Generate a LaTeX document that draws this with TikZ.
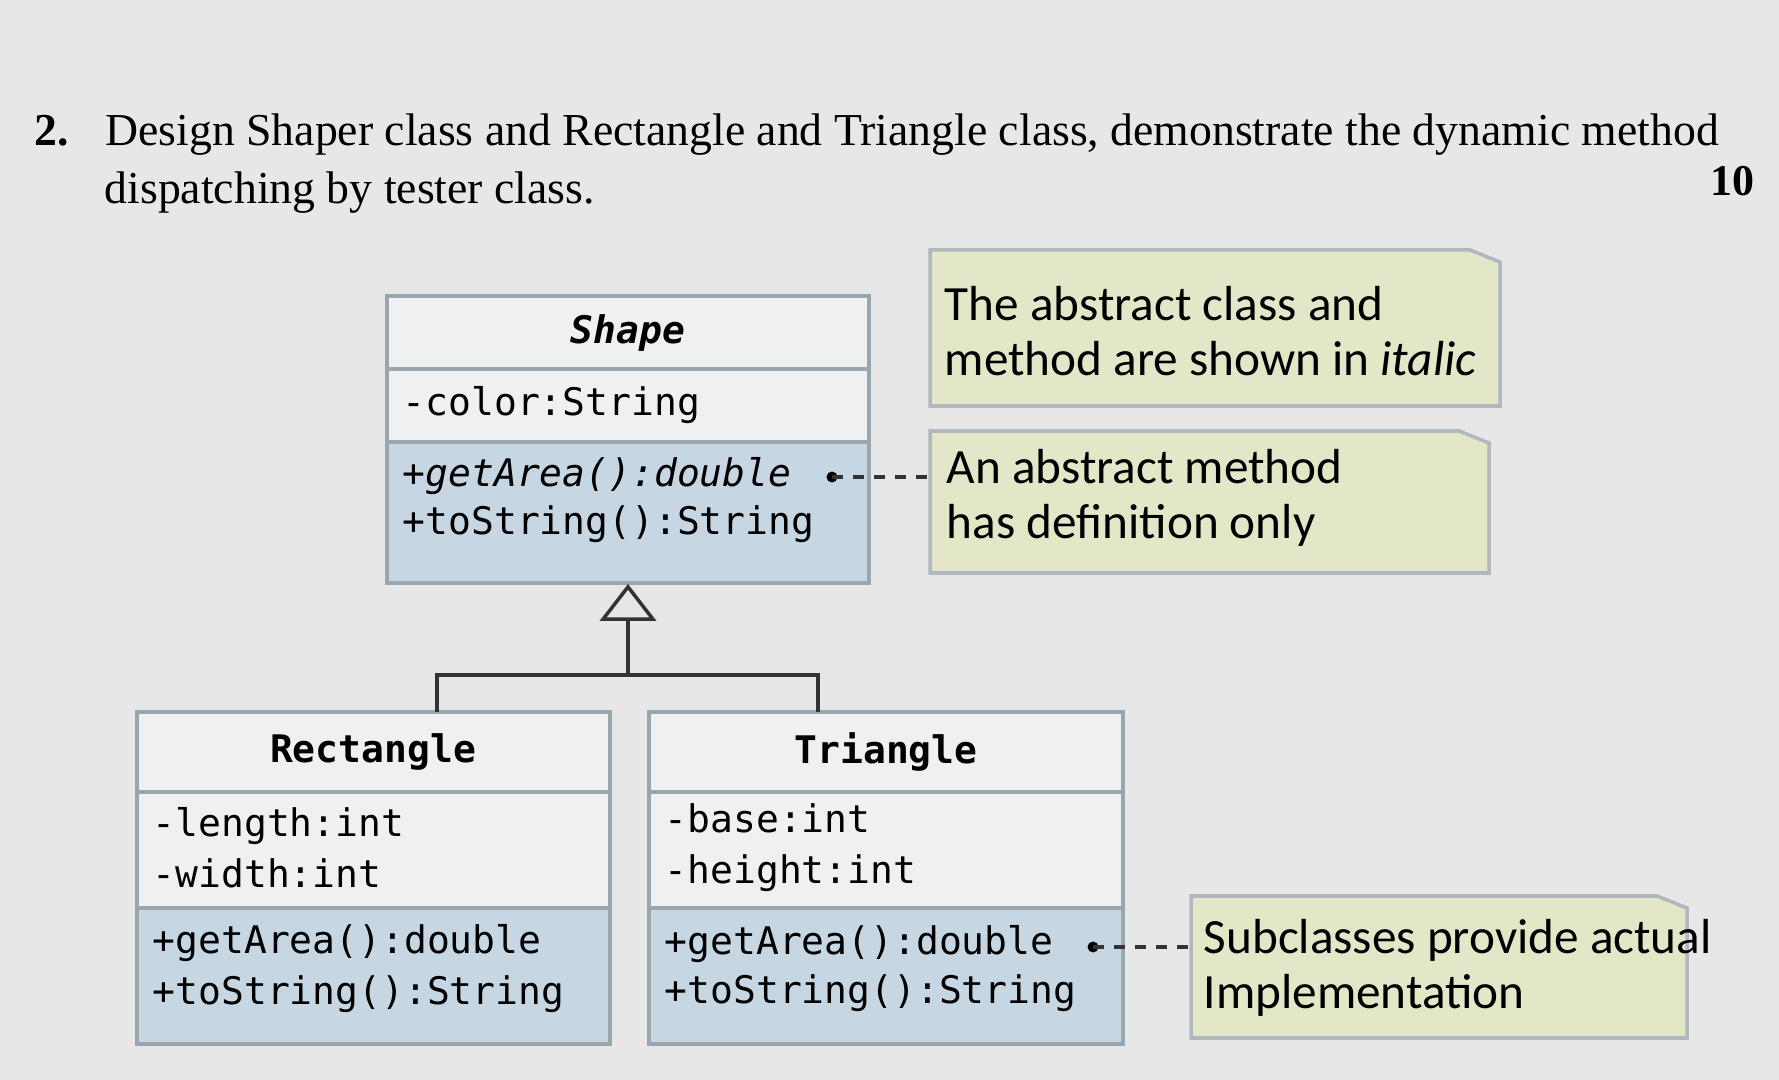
\documentclass[tikz,border=0pt]{standalone}
\usepackage{fontspec}
\setmainfont{Liberation Serif}
\newfontfamily\mono{DejaVu Sans Mono}
\newfontfamily\note{Carlito}
\usetikzlibrary{arrows.meta}
\definecolor{bg}{HTML}{E6E7E6}
\definecolor{hd}{HTML}{EEF0F2}
\definecolor{meth}{HTML}{C6D6E2}
\definecolor{notec}{HTML}{E4E6C8}
\definecolor{edge}{HTML}{9AA6AE}
\tikzset{
  sect/.style={draw=edge, line width=1pt},
  ctext/.style={font=\mono\fontsize{10.8}{14.5}\selectfont, anchor=west, align=left, inner sep=0pt},
  ntext/.style={font=\note\fontsize{14}{15.8}\selectfont, anchor=west, align=left, inner sep=0pt},
  notebox/.style={draw=edge!80, fill=notec, line width=1pt},
  conn/.style={draw=black!80, line width=1pt},
}
\begin{document}
\begin{tikzpicture}[x=0.01cm,y=-0.01cm]
\fill[bg] (0,0) rectangle (1779,1080);
\useasboundingbox (0,0) rectangle (1779,1080);
% title
\node[anchor=base west, inner sep=0pt, font=\fontsize{13}{15}\selectfont] (q) at (34,146) {\textbf{2.}\hspace{0.8em}Design Shaper class and Rectangle and Triangle class, demonstrate the dynamic method};
\node[anchor=base west, inner sep=0pt, font=\fontsize{13}{15}\selectfont] (q2) at (104,204) {dispatching by tester class.};
\node[anchor=base east, inner sep=0pt, font=\bfseries\fontsize{12.5}{15}\selectfont] (m) at (1755,196) {10};
% Shape
\filldraw[sect, fill=hd] (387,296) rectangle (869,369);
\filldraw[sect, fill=hd] (387,369) rectangle (869,442);
\filldraw[sect, fill=meth] (387,442) rectangle (869,583);
\node[font=\mono\bfseries\itshape\fontsize{10.8}{16}\selectfont] (shape) at (628,333) {Shape};
\node[ctext] (sa) at (402,405) {-color:String};
\node[ctext] (sm1) at (402,476) {\itshape +getArea():double};
\node[ctext] (sm2) at (402,524) {+toString():String};
\coordinate (shapebot) at (628,584);
% Rectangle
\filldraw[sect, fill=hd] (137,712) rectangle (610,792);
\filldraw[sect, fill=hd] (137,792) rectangle (610,908);
\filldraw[sect, fill=meth] (137,908) rectangle (610,1044);
\node[font=\mono\bfseries\fontsize{10.8}{16}\selectfont] (rect) at (373,752) {Rectangle};
\node[ctext] (ra) at (152,848) {-length:int\\-width:int};
\node[ctext] (rm) at (152,969) {+getArea():double\\+toString():String};
\coordinate (recttop) at (437,712);
% Triangle
\filldraw[sect, fill=hd] (649,712) rectangle (1123,792);
\filldraw[sect, fill=hd] (649,792) rectangle (1123,908);
\filldraw[sect, fill=meth] (649,908) rectangle (1123,1044);
\node[font=\mono\bfseries\fontsize{10.8}{16}\selectfont] (tri) at (886,752) {Triangle};
\node[ctext] (ta) at (664,848) {-base:int\\-height:int};
\node[ctext] (tm1) at (664,944) {+getArea():double};
\node[ctext] (tm2) at (664,993) {+toString():String};
\coordinate (tritop) at (818,712);
% inheritance
\coordinate (j) at (628,675);
\draw[conn] (recttop) |- (j) -| (tritop);
\draw[conn, -{Triangle[open, width=16pt, length=10.5pt, line width=1pt]}] (j) -- (shapebot);
% notes
\filldraw[notebox] (930,250) -- (1470,250) -- (1500,262) -- (1500,406) -- (930,406) -- cycle;
\node[ntext] (n1) at (944,331) {The abstract class and\\method are shown in \textit{italic}};
\filldraw[notebox] (930,431) -- (1459,431) -- (1489,443) -- (1489,573) -- (930,573) -- cycle;
\node[ntext] (n2) at (946,498) {An abstract method\\has definition only};
\filldraw[notebox] (1191,896) -- (1657,896) -- (1687,908) -- (1687,1038) -- (1191,1038) -- cycle;
\node[ntext] (n3) at (1203,968) {Subclasses provide actual\\Implementation};
% connectors
\coordinate (d1) at (832,477);
\coordinate (e1) at (930,477);
\fill (d1) circle (5.5);
\draw[conn, dashed] (d1) -- (e1);
\coordinate (d2) at (1093,947);
\coordinate (e2) at (1191,947);
\fill (d2) circle (5.5);
\draw[conn, dashed] (d2) -- (e2);
\end{tikzpicture}
\end{document}
